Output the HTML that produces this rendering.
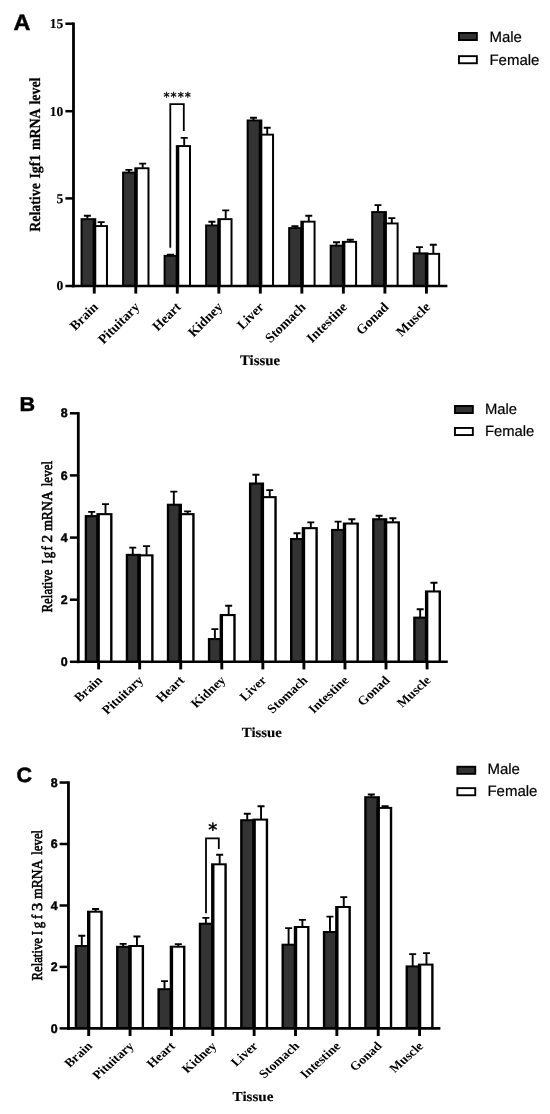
<!DOCTYPE html>
<html lang="en"><head><meta charset="utf-8"><title>Relative Igf mRNA levels</title>
<style>html,body{margin:0;padding:0;background:#fff}body{width:550px;height:1114px;overflow:hidden}svg{display:block}text{text-rendering:geometricPrecision}.sa{font-family:"Liberation Sans",sans-serif}.se{font-family:"Liberation Serif",serif}.dj{font-family:"DejaVu Sans","Liberation Sans",sans-serif}</style>
</head><body>
<svg width="550" height="1114" viewBox="0 0 550 1114">
<rect width="550" height="1114" fill="#fff"/>
<g>
<text transform="translate(13.6 29.6) scale(1.05 1)" class="sa" font-weight="bold" font-size="22.3" fill="#000" stroke="#000" stroke-width="0.5">A</text>
<path d="M87.36 218.70V215.70M83.86 215.70H90.86" stroke="#000" stroke-width="1.9" fill="none"/>
<path d="M101.16 225.60V222.10M97.66 222.10H104.66" stroke="#000" stroke-width="1.9" fill="none"/>
<rect x="80.56" y="218.20" width="15.70" height="67.80" fill="#000"/>
<rect x="82.56" y="220.10" width="10.20" height="65.90" fill="#333333"/>
<rect x="92.76" y="225.10" width="15.20" height="60.90" fill="#000"/>
<rect x="96.26" y="227.00" width="9.70" height="59.00" fill="#fff"/>
<path d="M128.88 172.10V169.90M125.38 169.90H132.38" stroke="#000" stroke-width="1.9" fill="none"/>
<path d="M142.68 167.80V163.60M139.18 163.60H146.18" stroke="#000" stroke-width="1.9" fill="none"/>
<rect x="122.08" y="171.60" width="15.70" height="114.40" fill="#000"/>
<rect x="124.08" y="173.50" width="10.20" height="112.50" fill="#333333"/>
<rect x="134.28" y="167.30" width="15.20" height="118.70" fill="#000"/>
<rect x="137.78" y="169.20" width="9.70" height="116.80" fill="#fff"/>
<path d="M170.40 255.40V254.70M166.90 254.70H173.90" stroke="#000" stroke-width="1.9" fill="none"/>
<path d="M184.20 145.60V137.90M180.70 137.90H187.70" stroke="#000" stroke-width="1.9" fill="none"/>
<rect x="163.60" y="254.90" width="15.70" height="31.10" fill="#000"/>
<rect x="165.60" y="256.80" width="10.20" height="29.20" fill="#333333"/>
<rect x="175.80" y="145.10" width="15.20" height="140.90" fill="#000"/>
<rect x="179.30" y="147.00" width="9.70" height="139.00" fill="#fff"/>
<path d="M211.92 225.00V221.80M208.42 221.80H215.42" stroke="#000" stroke-width="1.9" fill="none"/>
<path d="M225.72 218.70V210.40M222.22 210.40H229.22" stroke="#000" stroke-width="1.9" fill="none"/>
<rect x="205.12" y="224.50" width="15.70" height="61.50" fill="#000"/>
<rect x="207.12" y="226.40" width="10.20" height="59.60" fill="#333333"/>
<rect x="217.32" y="218.20" width="15.20" height="67.80" fill="#000"/>
<rect x="220.82" y="220.10" width="9.70" height="65.90" fill="#fff"/>
<path d="M253.44 120.00V117.80M249.94 117.80H256.94" stroke="#000" stroke-width="1.9" fill="none"/>
<path d="M267.24 134.20V127.70M263.74 127.70H270.74" stroke="#000" stroke-width="1.9" fill="none"/>
<rect x="246.64" y="119.50" width="15.70" height="166.50" fill="#000"/>
<rect x="248.64" y="121.40" width="10.20" height="164.60" fill="#333333"/>
<rect x="258.84" y="133.70" width="15.20" height="152.30" fill="#000"/>
<rect x="262.34" y="135.60" width="9.70" height="150.40" fill="#fff"/>
<path d="M294.96 227.60V226.10M291.46 226.10H298.46" stroke="#000" stroke-width="1.9" fill="none"/>
<path d="M308.76 221.20V215.70M305.26 215.70H312.26" stroke="#000" stroke-width="1.9" fill="none"/>
<rect x="288.16" y="227.10" width="15.70" height="58.90" fill="#000"/>
<rect x="290.16" y="229.00" width="10.20" height="57.00" fill="#333333"/>
<rect x="300.36" y="220.70" width="15.20" height="65.30" fill="#000"/>
<rect x="303.86" y="222.60" width="9.70" height="63.40" fill="#fff"/>
<path d="M336.48 245.20V242.30M332.98 242.30H339.98" stroke="#000" stroke-width="1.9" fill="none"/>
<path d="M350.28 241.40V239.70M346.78 239.70H353.78" stroke="#000" stroke-width="1.9" fill="none"/>
<rect x="329.68" y="244.70" width="15.70" height="41.30" fill="#000"/>
<rect x="331.68" y="246.60" width="10.20" height="39.40" fill="#333333"/>
<rect x="341.88" y="240.90" width="15.20" height="45.10" fill="#000"/>
<rect x="345.38" y="242.80" width="9.70" height="43.20" fill="#fff"/>
<path d="M378.00 211.60V205.10M374.50 205.10H381.50" stroke="#000" stroke-width="1.9" fill="none"/>
<path d="M391.80 223.00V218.10M388.30 218.10H395.30" stroke="#000" stroke-width="1.9" fill="none"/>
<rect x="371.20" y="211.10" width="15.70" height="74.90" fill="#000"/>
<rect x="373.20" y="213.00" width="10.20" height="73.00" fill="#333333"/>
<rect x="383.40" y="222.50" width="15.20" height="63.50" fill="#000"/>
<rect x="386.90" y="224.40" width="9.70" height="61.60" fill="#fff"/>
<path d="M419.52 252.90V247.10M416.02 247.10H423.02" stroke="#000" stroke-width="1.9" fill="none"/>
<path d="M433.32 253.40V244.80M429.82 244.80H436.82" stroke="#000" stroke-width="1.9" fill="none"/>
<rect x="412.72" y="252.40" width="15.70" height="33.60" fill="#000"/>
<rect x="414.72" y="254.30" width="10.20" height="31.70" fill="#333333"/>
<rect x="424.92" y="252.90" width="15.20" height="33.10" fill="#000"/>
<rect x="428.42" y="254.80" width="9.70" height="31.20" fill="#fff"/>
<path d="M73.5 22.6V287.35" stroke="#000" stroke-width="2.8" fill="none"/>
<path d="M72.1 286.0H447.4" stroke="#000" stroke-width="2.6" fill="none"/>
<path d="M65.4 286.0H73.5" stroke="#000" stroke-width="2.5" fill="none"/>
<text x="63.3" y="290.40" text-anchor="end" class="se" font-weight="bold" font-size="13.5" fill="#000" stroke="#000" stroke-width="0.15">0</text>
<path d="M65.4 198.4H73.5" stroke="#000" stroke-width="2.5" fill="none"/>
<text x="63.3" y="202.80" text-anchor="end" class="se" font-weight="bold" font-size="13.5" fill="#000" stroke="#000" stroke-width="0.15">5</text>
<path d="M65.4 111.2H73.5" stroke="#000" stroke-width="2.5" fill="none"/>
<text x="63.3" y="115.60" text-anchor="end" class="se" font-weight="bold" font-size="13.5" fill="#000" stroke="#000" stroke-width="0.15">10</text>
<path d="M65.4 23.7H73.5" stroke="#000" stroke-width="2.5" fill="none"/>
<text x="63.3" y="28.10" text-anchor="end" class="se" font-weight="bold" font-size="13.5" fill="#000" stroke="#000" stroke-width="0.15">15</text>
<path d="M94.26 286.0V293.6" stroke="#000" stroke-width="2.9" fill="none"/>
<text transform="translate(98.76 307.80) scale(1 1.0) rotate(-45)" text-anchor="end" class="se" font-weight="bold" font-size="13.6" fill="#000">Brain</text>
<path d="M135.78 286.0V293.6" stroke="#000" stroke-width="2.9" fill="none"/>
<text transform="translate(140.28 307.80) scale(1 1.0) rotate(-45)" text-anchor="end" class="se" font-weight="bold" font-size="13.6" fill="#000">Pituitary</text>
<path d="M177.30 286.0V293.6" stroke="#000" stroke-width="2.9" fill="none"/>
<text transform="translate(181.80 307.80) scale(1 1.0) rotate(-45)" text-anchor="end" class="se" font-weight="bold" font-size="13.6" fill="#000">Heart</text>
<path d="M218.82 286.0V293.6" stroke="#000" stroke-width="2.9" fill="none"/>
<text transform="translate(223.32 307.80) scale(1 1.0) rotate(-45)" text-anchor="end" class="se" font-weight="bold" font-size="13.6" fill="#000">Kidney</text>
<path d="M260.34 286.0V293.6" stroke="#000" stroke-width="2.9" fill="none"/>
<text transform="translate(264.84 307.80) scale(1 1.0) rotate(-45)" text-anchor="end" class="se" font-weight="bold" font-size="13.6" fill="#000">Liver</text>
<path d="M301.86 286.0V293.6" stroke="#000" stroke-width="2.9" fill="none"/>
<text transform="translate(306.36 307.80) scale(1 1.0) rotate(-45)" text-anchor="end" class="se" font-weight="bold" font-size="13.6" fill="#000">Stomach</text>
<path d="M343.38 286.0V293.6" stroke="#000" stroke-width="2.9" fill="none"/>
<text transform="translate(347.88 307.80) scale(1 1.0) rotate(-45)" text-anchor="end" class="se" font-weight="bold" font-size="13.6" fill="#000">Intestine</text>
<path d="M384.90 286.0V293.6" stroke="#000" stroke-width="2.9" fill="none"/>
<text transform="translate(389.40 307.80) scale(1 1.0) rotate(-45)" text-anchor="end" class="se" font-weight="bold" font-size="13.6" fill="#000">Gonad</text>
<path d="M426.42 286.0V293.6" stroke="#000" stroke-width="2.9" fill="none"/>
<text transform="translate(430.92 307.80) scale(1 1.0) rotate(-45)" text-anchor="end" class="se" font-weight="bold" font-size="13.6" fill="#000">Muscle</text>
<text transform="translate(39.8 154.65) rotate(-90) scale(0.9 1)" text-anchor="middle" class="se" font-weight="bold" font-size="15.4" word-spacing="1.35" fill="#000" stroke="#000" stroke-width="0.25">Relative Igf1 mRNA level</text>
<text transform="translate(240.0 364.9) scale(1 0.97)" class="se" font-weight="bold" font-size="14.8" fill="#000" stroke="#000" stroke-width="0.15">Tissue</text>
<rect x="458.95" y="32.95" width="17.90" height="7.10" fill="#333333" stroke="#000" stroke-width="1.9"/>
<rect x="458.95" y="56.15" width="17.90" height="7.10" fill="#fff" stroke="#000" stroke-width="1.9"/>
<text x="489.4" y="41.6" class="sa" font-size="15" fill="#000" stroke="#000" stroke-width="0.2">Male</text>
<text x="489.4" y="64.6" class="sa" font-size="15" fill="#000" stroke="#000" stroke-width="0.2">Female</text>
<path d="M170.3 247.7V104.2H183.8V130.9" stroke="#000" stroke-width="1.8" fill="none"/>
<text x="177.65" y="101.1" text-anchor="middle" class="dj" font-size="12.2" letter-spacing="1.0" fill="#000" stroke="#000" stroke-width="0.35">****</text>
</g>
<g>
<text transform="translate(19.5 411.2) scale(1.08 1)" class="sa" font-weight="bold" font-size="20.0" fill="#000" stroke="#000" stroke-width="0.5">B</text>
<path d="M91.70 515.60V511.90M88.20 511.90H95.20" stroke="#000" stroke-width="1.9" fill="none"/>
<path d="M105.50 513.60V504.10M102.00 504.10H109.00" stroke="#000" stroke-width="1.9" fill="none"/>
<rect x="84.70" y="515.10" width="15.15" height="146.70" fill="#000"/>
<rect x="87.10" y="517.20" width="9.35" height="144.60" fill="#333333"/>
<rect x="96.45" y="513.10" width="16.05" height="148.70" fill="#000"/>
<rect x="99.85" y="515.20" width="10.25" height="146.60" fill="#fff"/>
<path d="M132.76 554.30V547.60M129.26 547.60H136.26" stroke="#000" stroke-width="1.9" fill="none"/>
<path d="M146.56 554.80V546.10M143.06 546.10H150.06" stroke="#000" stroke-width="1.9" fill="none"/>
<rect x="125.76" y="553.80" width="15.15" height="108.00" fill="#000"/>
<rect x="128.16" y="555.90" width="9.35" height="105.90" fill="#333333"/>
<rect x="137.51" y="554.30" width="16.05" height="107.50" fill="#000"/>
<rect x="140.91" y="556.40" width="10.25" height="105.40" fill="#fff"/>
<path d="M173.82 504.20V491.60M170.32 491.60H177.32" stroke="#000" stroke-width="1.9" fill="none"/>
<path d="M187.62 513.60V511.40M184.12 511.40H191.12" stroke="#000" stroke-width="1.9" fill="none"/>
<rect x="166.82" y="503.70" width="15.15" height="158.10" fill="#000"/>
<rect x="169.22" y="505.80" width="9.35" height="156.00" fill="#333333"/>
<rect x="178.57" y="513.10" width="16.05" height="148.70" fill="#000"/>
<rect x="181.97" y="515.20" width="10.25" height="146.60" fill="#fff"/>
<path d="M214.88 638.50V629.10M211.38 629.10H218.38" stroke="#000" stroke-width="1.9" fill="none"/>
<path d="M228.68 614.50V605.70M225.18 605.70H232.18" stroke="#000" stroke-width="1.9" fill="none"/>
<rect x="207.88" y="638.00" width="15.15" height="23.80" fill="#000"/>
<rect x="210.28" y="640.10" width="9.35" height="21.70" fill="#333333"/>
<rect x="219.63" y="614.00" width="16.05" height="47.80" fill="#000"/>
<rect x="223.03" y="616.10" width="10.25" height="45.70" fill="#fff"/>
<path d="M255.94 483.00V474.80M252.44 474.80H259.44" stroke="#000" stroke-width="1.9" fill="none"/>
<path d="M269.74 496.60V490.10M266.24 490.10H273.24" stroke="#000" stroke-width="1.9" fill="none"/>
<rect x="248.94" y="482.50" width="15.15" height="179.30" fill="#000"/>
<rect x="251.34" y="484.60" width="9.35" height="177.20" fill="#333333"/>
<rect x="260.69" y="496.10" width="16.05" height="165.70" fill="#000"/>
<rect x="264.09" y="498.20" width="10.25" height="163.60" fill="#fff"/>
<path d="M297.00 538.50V533.30M293.50 533.30H300.50" stroke="#000" stroke-width="1.9" fill="none"/>
<path d="M310.80 527.60V522.40M307.30 522.40H314.30" stroke="#000" stroke-width="1.9" fill="none"/>
<rect x="290.00" y="538.00" width="15.15" height="123.80" fill="#000"/>
<rect x="292.40" y="540.10" width="9.35" height="121.70" fill="#333333"/>
<rect x="301.75" y="527.10" width="16.05" height="134.70" fill="#000"/>
<rect x="305.15" y="529.20" width="10.25" height="132.60" fill="#fff"/>
<path d="M338.06 529.40V521.60M334.56 521.60H341.56" stroke="#000" stroke-width="1.9" fill="none"/>
<path d="M351.86 523.00V519.30M348.36 519.30H355.36" stroke="#000" stroke-width="1.9" fill="none"/>
<rect x="331.06" y="528.90" width="15.15" height="132.90" fill="#000"/>
<rect x="333.46" y="531.00" width="9.35" height="130.80" fill="#333333"/>
<rect x="342.81" y="522.50" width="16.05" height="139.30" fill="#000"/>
<rect x="346.21" y="524.60" width="10.25" height="137.20" fill="#fff"/>
<path d="M379.12 518.70V515.70M375.62 515.70H382.62" stroke="#000" stroke-width="1.9" fill="none"/>
<path d="M392.92 521.80V518.30M389.42 518.30H396.42" stroke="#000" stroke-width="1.9" fill="none"/>
<rect x="372.12" y="518.20" width="15.15" height="143.60" fill="#000"/>
<rect x="374.52" y="520.30" width="9.35" height="141.50" fill="#333333"/>
<rect x="383.87" y="521.30" width="16.05" height="140.50" fill="#000"/>
<rect x="387.27" y="523.40" width="10.25" height="138.40" fill="#fff"/>
<path d="M420.18 617.10V609.30M416.68 609.30H423.68" stroke="#000" stroke-width="1.9" fill="none"/>
<path d="M433.98 590.90V582.80M430.48 582.80H437.48" stroke="#000" stroke-width="1.9" fill="none"/>
<rect x="413.18" y="616.60" width="15.15" height="45.20" fill="#000"/>
<rect x="415.58" y="618.70" width="9.35" height="43.10" fill="#333333"/>
<rect x="424.93" y="590.40" width="16.05" height="71.40" fill="#000"/>
<rect x="428.33" y="592.50" width="10.25" height="69.30" fill="#fff"/>
<path d="M78.3 412.1V663.15" stroke="#000" stroke-width="2.8" fill="none"/>
<path d="M76.89999999999999 661.8H447.8" stroke="#000" stroke-width="2.6" fill="none"/>
<path d="M69.9 661.8H78.3" stroke="#000" stroke-width="2.5" fill="none"/>
<text x="67.6" y="665.90" text-anchor="end" class="sa" font-weight="bold" font-size="12.4" fill="#000" stroke="#000" stroke-width="0.45">0</text>
<path d="M69.9 599.7H78.3" stroke="#000" stroke-width="2.5" fill="none"/>
<text x="67.6" y="603.80" text-anchor="end" class="sa" font-weight="bold" font-size="12.4" fill="#000" stroke="#000" stroke-width="0.45">2</text>
<path d="M69.9 537.6H78.3" stroke="#000" stroke-width="2.5" fill="none"/>
<text x="67.6" y="541.70" text-anchor="end" class="sa" font-weight="bold" font-size="12.4" fill="#000" stroke="#000" stroke-width="0.45">4</text>
<path d="M69.9 475.4H78.3" stroke="#000" stroke-width="2.5" fill="none"/>
<text x="67.6" y="479.50" text-anchor="end" class="sa" font-weight="bold" font-size="12.4" fill="#000" stroke="#000" stroke-width="0.45">6</text>
<path d="M69.9 413.3H78.3" stroke="#000" stroke-width="2.5" fill="none"/>
<text x="67.6" y="417.40" text-anchor="end" class="sa" font-weight="bold" font-size="12.4" fill="#000" stroke="#000" stroke-width="0.45">8</text>
<path d="M98.60 661.8V669.4" stroke="#000" stroke-width="2.9" fill="none"/>
<text transform="translate(103.10 681.00) scale(1 0.92) rotate(-45)" text-anchor="end" class="se" font-weight="bold" font-size="13.6" fill="#000">Brain</text>
<path d="M139.66 661.8V669.4" stroke="#000" stroke-width="2.9" fill="none"/>
<text transform="translate(144.16 681.00) scale(1 0.92) rotate(-45)" text-anchor="end" class="se" font-weight="bold" font-size="13.6" fill="#000">Pituitary</text>
<path d="M180.72 661.8V669.4" stroke="#000" stroke-width="2.9" fill="none"/>
<text transform="translate(185.22 681.00) scale(1 0.92) rotate(-45)" text-anchor="end" class="se" font-weight="bold" font-size="13.6" fill="#000">Heart</text>
<path d="M221.78 661.8V669.4" stroke="#000" stroke-width="2.9" fill="none"/>
<text transform="translate(226.28 681.00) scale(1 0.92) rotate(-45)" text-anchor="end" class="se" font-weight="bold" font-size="13.6" fill="#000">Kidney</text>
<path d="M262.84 661.8V669.4" stroke="#000" stroke-width="2.9" fill="none"/>
<text transform="translate(267.34 681.00) scale(1 0.92) rotate(-45)" text-anchor="end" class="se" font-weight="bold" font-size="13.6" fill="#000">Liver</text>
<path d="M303.90 661.8V669.4" stroke="#000" stroke-width="2.9" fill="none"/>
<text transform="translate(308.40 681.00) scale(1 0.92) rotate(-45)" text-anchor="end" class="se" font-weight="bold" font-size="13.6" fill="#000">Stomach</text>
<path d="M344.96 661.8V669.4" stroke="#000" stroke-width="2.9" fill="none"/>
<text transform="translate(349.46 681.00) scale(1 0.92) rotate(-45)" text-anchor="end" class="se" font-weight="bold" font-size="13.6" fill="#000">Intestine</text>
<path d="M386.02 661.8V669.4" stroke="#000" stroke-width="2.9" fill="none"/>
<text transform="translate(390.52 681.00) scale(1 0.92) rotate(-45)" text-anchor="end" class="se" font-weight="bold" font-size="13.6" fill="#000">Gonad</text>
<path d="M427.08 661.8V669.4" stroke="#000" stroke-width="2.9" fill="none"/>
<text transform="translate(431.58 681.00) scale(1 0.92) rotate(-45)" text-anchor="end" class="se" font-weight="bold" font-size="13.6" fill="#000">Muscle</text>
<text transform="translate(51.65 612.5) rotate(-90)" textLength="43.0" lengthAdjust="spacingAndGlyphs" class="se" font-weight="normal" font-size="15.0" fill="#000" stroke="#000" stroke-width="0.6">Relative</text>
<text transform="translate(51.65 563.7) rotate(-90) scale(0.86 1)" letter-spacing="1.43" class="se" font-weight="normal" font-size="15.0" fill="#000" stroke="#000" stroke-width="0.6">Igf</text>
<text transform="translate(51.65 542.4) rotate(-90)" textLength="7.6" lengthAdjust="spacingAndGlyphs" class="se" font-weight="normal" font-size="15.0" fill="#000" stroke="#000" stroke-width="0.6">2</text>
<text transform="translate(51.65 530.8) rotate(-90)" textLength="39.6" lengthAdjust="spacingAndGlyphs" class="se" font-weight="normal" font-size="15.0" fill="#000" stroke="#000" stroke-width="0.6">mRNA</text>
<text transform="translate(51.65 486.3) rotate(-90)" textLength="25.4" lengthAdjust="spacingAndGlyphs" class="se" font-weight="normal" font-size="15.0" fill="#000" stroke="#000" stroke-width="0.6">level</text>
<text transform="translate(241.8 736.6) scale(1 0.94)" class="se" font-weight="bold" font-size="14.8" fill="#000" stroke="#000" stroke-width="0.15">Tissue</text>
<rect x="454.95" y="405.95" width="17.90" height="7.10" fill="#333333" stroke="#000" stroke-width="1.9"/>
<rect x="454.95" y="427.95" width="17.90" height="7.10" fill="#fff" stroke="#000" stroke-width="1.9"/>
<text x="485.0" y="413.8" class="sa" font-size="14.8" fill="#000" stroke="#000" stroke-width="0.2">Male</text>
<text x="485.0" y="435.8" class="sa" font-size="14.8" fill="#000" stroke="#000" stroke-width="0.2">Female</text>
</g>
<g>
<text transform="translate(16.6 782.0) scale(1.04 1)" class="sa" font-weight="bold" font-size="20.7" fill="#000" stroke="#000" stroke-width="0.5">C</text>
<path d="M81.80 945.50V935.70M78.30 935.70H85.30" stroke="#000" stroke-width="1.9" fill="none"/>
<path d="M95.60 911.20V909.00M92.10 909.00H99.10" stroke="#000" stroke-width="1.9" fill="none"/>
<rect x="74.70" y="945.00" width="15.70" height="83.40" fill="#000"/>
<rect x="77.10" y="947.00" width="9.90" height="81.40" fill="#333333"/>
<rect x="87.00" y="910.70" width="15.70" height="117.70" fill="#000"/>
<rect x="90.40" y="912.70" width="9.90" height="115.70" fill="#fff"/>
<path d="M123.16 946.30V943.90M119.66 943.90H126.66" stroke="#000" stroke-width="1.9" fill="none"/>
<path d="M136.96 945.50V936.50M133.46 936.50H140.46" stroke="#000" stroke-width="1.9" fill="none"/>
<rect x="116.06" y="945.80" width="15.70" height="82.60" fill="#000"/>
<rect x="118.46" y="947.80" width="9.90" height="80.60" fill="#333333"/>
<rect x="128.36" y="945.00" width="15.70" height="83.40" fill="#000"/>
<rect x="131.76" y="947.00" width="9.90" height="81.40" fill="#fff"/>
<path d="M164.52 988.70V981.10M161.02 981.10H168.02" stroke="#000" stroke-width="1.9" fill="none"/>
<path d="M178.32 946.20V944.10M174.82 944.10H181.82" stroke="#000" stroke-width="1.9" fill="none"/>
<rect x="157.42" y="988.20" width="15.70" height="40.20" fill="#000"/>
<rect x="159.82" y="990.20" width="9.90" height="38.20" fill="#333333"/>
<rect x="169.72" y="945.70" width="15.70" height="82.70" fill="#000"/>
<rect x="173.12" y="947.70" width="9.90" height="80.70" fill="#fff"/>
<path d="M205.88 923.20V917.90M202.38 917.90H209.38" stroke="#000" stroke-width="1.9" fill="none"/>
<path d="M219.68 863.80V854.80M216.18 854.80H223.18" stroke="#000" stroke-width="1.9" fill="none"/>
<rect x="198.78" y="922.70" width="15.70" height="105.70" fill="#000"/>
<rect x="201.18" y="924.70" width="9.90" height="103.70" fill="#333333"/>
<rect x="211.08" y="863.30" width="15.70" height="165.10" fill="#000"/>
<rect x="214.48" y="865.30" width="9.90" height="163.10" fill="#fff"/>
<path d="M247.24 819.70V813.70M243.74 813.70H250.74" stroke="#000" stroke-width="1.9" fill="none"/>
<path d="M261.04 819.10V806.30M257.54 806.30H264.54" stroke="#000" stroke-width="1.9" fill="none"/>
<rect x="240.14" y="819.20" width="15.70" height="209.20" fill="#000"/>
<rect x="242.54" y="821.20" width="9.90" height="207.20" fill="#333333"/>
<rect x="252.44" y="818.60" width="15.70" height="209.80" fill="#000"/>
<rect x="255.84" y="820.60" width="9.90" height="207.80" fill="#fff"/>
<path d="M288.60 944.20V928.10M285.10 928.10H292.10" stroke="#000" stroke-width="1.9" fill="none"/>
<path d="M302.40 926.50V919.90M298.90 919.90H305.90" stroke="#000" stroke-width="1.9" fill="none"/>
<rect x="281.50" y="943.70" width="15.70" height="84.70" fill="#000"/>
<rect x="283.90" y="945.70" width="9.90" height="82.70" fill="#333333"/>
<rect x="293.80" y="926.00" width="15.70" height="102.40" fill="#000"/>
<rect x="297.20" y="928.00" width="9.90" height="100.40" fill="#fff"/>
<path d="M329.96 931.50V916.60M326.46 916.60H333.46" stroke="#000" stroke-width="1.9" fill="none"/>
<path d="M343.76 906.50V897.10M340.26 897.10H347.26" stroke="#000" stroke-width="1.9" fill="none"/>
<rect x="322.86" y="931.00" width="15.70" height="97.40" fill="#000"/>
<rect x="325.26" y="933.00" width="9.90" height="95.40" fill="#333333"/>
<rect x="335.16" y="906.00" width="15.70" height="122.40" fill="#000"/>
<rect x="338.56" y="908.00" width="9.90" height="120.40" fill="#fff"/>
<path d="M371.32 796.70V794.50M367.82 794.50H374.82" stroke="#000" stroke-width="1.9" fill="none"/>
<path d="M385.12 807.40V806.20M381.62 806.20H388.62" stroke="#000" stroke-width="1.9" fill="none"/>
<rect x="364.22" y="796.20" width="15.70" height="232.20" fill="#000"/>
<rect x="366.62" y="798.20" width="9.90" height="230.20" fill="#333333"/>
<rect x="376.52" y="806.90" width="15.70" height="221.50" fill="#000"/>
<rect x="379.92" y="808.90" width="9.90" height="219.50" fill="#fff"/>
<path d="M412.68 965.90V954.10M409.18 954.10H416.18" stroke="#000" stroke-width="1.9" fill="none"/>
<path d="M426.48 964.10V953.10M422.98 953.10H429.98" stroke="#000" stroke-width="1.9" fill="none"/>
<rect x="405.58" y="965.40" width="15.70" height="63.00" fill="#000"/>
<rect x="407.98" y="967.40" width="9.90" height="61.00" fill="#333333"/>
<rect x="417.88" y="963.60" width="15.70" height="64.80" fill="#000"/>
<rect x="421.28" y="965.60" width="9.90" height="62.80" fill="#fff"/>
<path d="M68.45 781.3V1029.75" stroke="#000" stroke-width="2.8" fill="none"/>
<path d="M67.05 1028.4H440.4" stroke="#000" stroke-width="2.6" fill="none"/>
<path d="M59.6 1028.4H68.45" stroke="#000" stroke-width="2.5" fill="none"/>
<text x="57.6" y="1032.50" text-anchor="end" class="sa" font-weight="bold" font-size="12.4" fill="#000" stroke="#000" stroke-width="0.45">0</text>
<path d="M59.6 966.9H68.45" stroke="#000" stroke-width="2.5" fill="none"/>
<text x="57.6" y="971.00" text-anchor="end" class="sa" font-weight="bold" font-size="12.4" fill="#000" stroke="#000" stroke-width="0.45">2</text>
<path d="M59.6 905.5H68.45" stroke="#000" stroke-width="2.5" fill="none"/>
<text x="57.6" y="909.60" text-anchor="end" class="sa" font-weight="bold" font-size="12.4" fill="#000" stroke="#000" stroke-width="0.45">4</text>
<path d="M59.6 844.0H68.45" stroke="#000" stroke-width="2.5" fill="none"/>
<text x="57.6" y="848.10" text-anchor="end" class="sa" font-weight="bold" font-size="12.4" fill="#000" stroke="#000" stroke-width="0.45">6</text>
<path d="M59.6 782.55H68.45" stroke="#000" stroke-width="2.5" fill="none"/>
<text x="57.6" y="786.65" text-anchor="end" class="sa" font-weight="bold" font-size="12.4" fill="#000" stroke="#000" stroke-width="0.45">8</text>
<path d="M88.70 1028.4V1036.0" stroke="#000" stroke-width="2.9" fill="none"/>
<text transform="translate(93.20 1046.80) scale(1 0.9) rotate(-45)" text-anchor="end" class="se" font-weight="bold" font-size="13.6" fill="#000">Brain</text>
<path d="M130.06 1028.4V1036.0" stroke="#000" stroke-width="2.9" fill="none"/>
<text transform="translate(134.56 1046.80) scale(1 0.9) rotate(-45)" text-anchor="end" class="se" font-weight="bold" font-size="13.6" fill="#000">Pituitary</text>
<path d="M171.42 1028.4V1036.0" stroke="#000" stroke-width="2.9" fill="none"/>
<text transform="translate(175.92 1046.80) scale(1 0.9) rotate(-45)" text-anchor="end" class="se" font-weight="bold" font-size="13.6" fill="#000">Heart</text>
<path d="M212.78 1028.4V1036.0" stroke="#000" stroke-width="2.9" fill="none"/>
<text transform="translate(217.28 1046.80) scale(1 0.9) rotate(-45)" text-anchor="end" class="se" font-weight="bold" font-size="13.6" fill="#000">Kidney</text>
<path d="M254.14 1028.4V1036.0" stroke="#000" stroke-width="2.9" fill="none"/>
<text transform="translate(258.64 1046.80) scale(1 0.9) rotate(-45)" text-anchor="end" class="se" font-weight="bold" font-size="13.6" fill="#000">Liver</text>
<path d="M295.50 1028.4V1036.0" stroke="#000" stroke-width="2.9" fill="none"/>
<text transform="translate(300.00 1046.80) scale(1 0.9) rotate(-45)" text-anchor="end" class="se" font-weight="bold" font-size="13.6" fill="#000">Stomach</text>
<path d="M336.86 1028.4V1036.0" stroke="#000" stroke-width="2.9" fill="none"/>
<text transform="translate(341.36 1046.80) scale(1 0.9) rotate(-45)" text-anchor="end" class="se" font-weight="bold" font-size="13.6" fill="#000">Intestine</text>
<path d="M378.22 1028.4V1036.0" stroke="#000" stroke-width="2.9" fill="none"/>
<text transform="translate(382.72 1046.80) scale(1 0.9) rotate(-45)" text-anchor="end" class="se" font-weight="bold" font-size="13.6" fill="#000">Gonad</text>
<path d="M419.58 1028.4V1036.0" stroke="#000" stroke-width="2.9" fill="none"/>
<text transform="translate(424.08 1046.80) scale(1 0.9) rotate(-45)" text-anchor="end" class="se" font-weight="bold" font-size="13.6" fill="#000">Muscle</text>
<text transform="translate(41.65 980.5) rotate(-90)" textLength="42.5" lengthAdjust="spacingAndGlyphs" class="se" font-weight="normal" font-size="15.0" fill="#000" stroke="#000" stroke-width="0.6">Relative</text>
<text transform="translate(41.65 935.2) rotate(-90) scale(0.86 1)" letter-spacing="3.12" class="se" font-weight="normal" font-size="15.0" fill="#000" stroke="#000" stroke-width="0.6">Igf</text>
<text transform="translate(41.65 911.1) rotate(-90)" textLength="8.2" lengthAdjust="spacingAndGlyphs" class="se" font-weight="normal" font-size="15.0" fill="#000" stroke="#000" stroke-width="0.6">3</text>
<text transform="translate(41.65 898.8) rotate(-90)" textLength="39.2" lengthAdjust="spacingAndGlyphs" class="se" font-weight="normal" font-size="15.0" fill="#000" stroke="#000" stroke-width="0.6">mRNA</text>
<text transform="translate(41.65 854.8) rotate(-90)" textLength="25.0" lengthAdjust="spacingAndGlyphs" class="se" font-weight="normal" font-size="15.0" fill="#000" stroke="#000" stroke-width="0.6">level</text>
<text transform="translate(232.6 1101.2) scale(1 0.9)" class="se" font-weight="bold" font-size="15.1" fill="#000" stroke="#000" stroke-width="0.15">Tissue</text>
<rect x="457.35" y="766.75" width="17.90" height="7.10" fill="#333333" stroke="#000" stroke-width="1.9"/>
<rect x="457.35" y="788.15" width="17.90" height="7.10" fill="#fff" stroke="#000" stroke-width="1.9"/>
<text x="487.4" y="774.4" class="sa" font-size="15" fill="#000" stroke="#000" stroke-width="0.2">Male</text>
<text x="487.4" y="795.8" class="sa" font-size="15" fill="#000" stroke="#000" stroke-width="0.2">Female</text>
<path d="M206.0 913.3V838.3H218.8V849.1" stroke="#000" stroke-width="1.8" fill="none"/>
<text x="212.7" y="835.8" text-anchor="middle" class="dj" font-size="18" letter-spacing="0" fill="#000" stroke="#000" stroke-width="0.5">*</text>
</g>
</svg>
</body></html>
